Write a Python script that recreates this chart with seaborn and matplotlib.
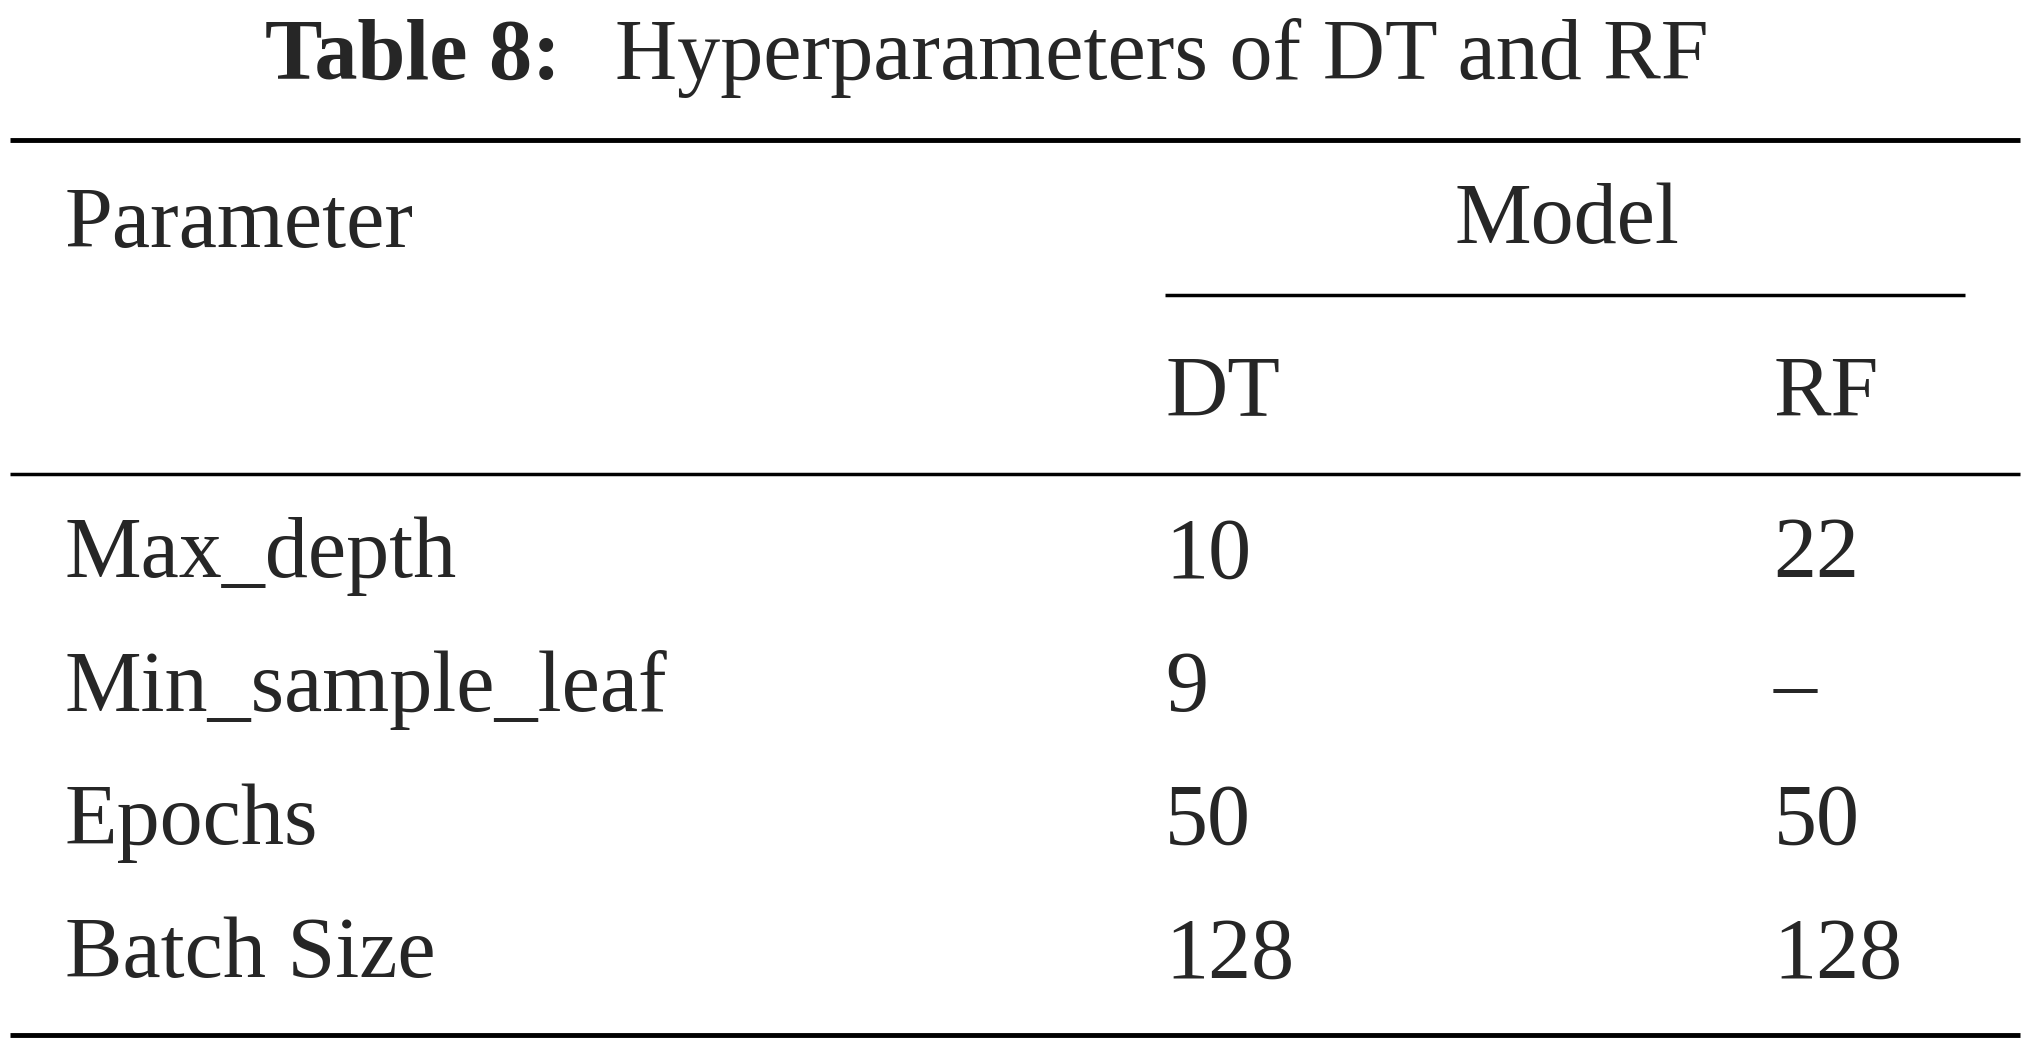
import seaborn as sns
import matplotlib.pyplot as plt

# table contents
params = ['Max_depth', 'Min_sample_leaf', 'Epochs', 'Batch Size']
dt_vals = ['10', '9', '50', '128']
rf_vals = ['22', '–', '50', '128']
models = ['DT', 'RF']

sns.set_theme(style='white')
plt.rcParams['font.family'] = ['Liberation Serif', 'DejaVu Serif']

W, H = 1568, 812  # reference layout units
fig = plt.figure(figsize=(20.30, 10.51), dpi=100)
ax = fig.add_axes([0, 0, 1, 1])
ax.set_xlim(0, W)
ax.set_ylim(H, 0)
ax.axis('off')

fs = 62
ax.text(205, 45, 'Table 8:', fontsize=fs, fontweight='bold', va='center', ha='left')
ax.text(475, 45, 'Hyperparameters of DT and RF', fontsize=fs, va='center', ha='left')

ax.hlines(108, 8, 1560, color='black', lw=3.5)
ax.hlines(228, 900, 1518, color='black', lw=2.5)
ax.hlines(366, 8, 1560, color='black', lw=2.5)
ax.hlines(800, 8, 1560, color='black', lw=3.5)

ax.text(50, 175, 'Parameter', fontsize=fs, va='center')
ax.text(1210, 172, 'Model', fontsize=fs, va='center', ha='center')
for m, x in zip(models, [900, 1370]):
    ax.text(x, 305, m, fontsize=fs, va='center')

for i, (p, d, r) in enumerate(zip(params, dt_vals, rf_vals)):
    y = 430 + i * 103
    ax.text(50, y, p, fontsize=fs, va='center')
    ax.text(900, y, d, fontsize=fs, va='center')
    ax.text(1370, y, r, fontsize=fs, va='center')

fig.savefig('out.png', dpi=100, facecolor='white')
